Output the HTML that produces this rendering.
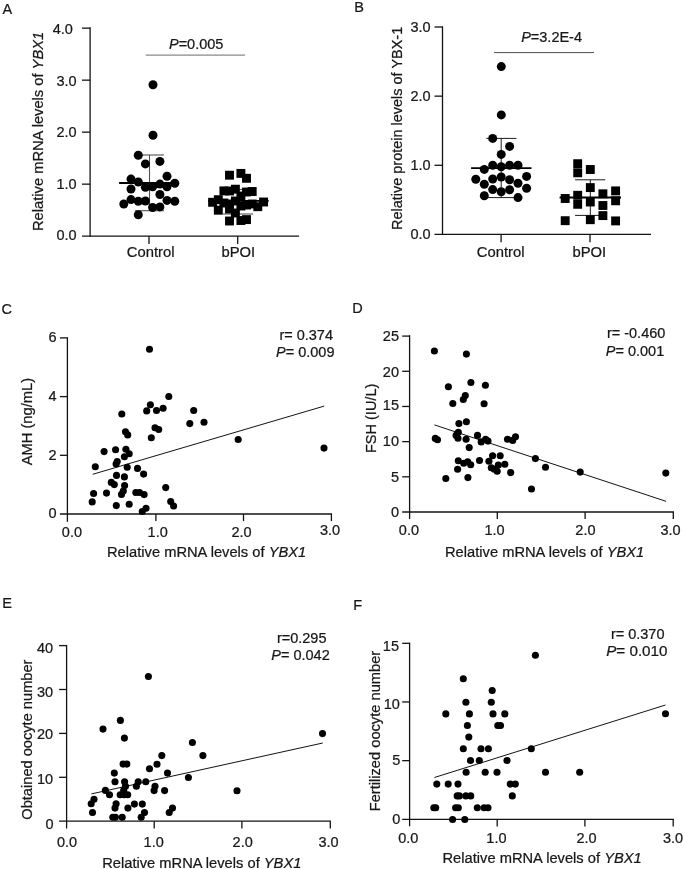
<!DOCTYPE html>
<html lang="en">
<head>
<meta charset="utf-8">
<title>Figure: YBX1 expression and correlations</title>
<style>
html,body{margin:0;padding:0;background:#fff;}
body{width:685px;height:869px;overflow:hidden;}
svg{display:block;}
svg text{font-family:"Liberation Sans",Arial,Helvetica,sans-serif;fill:#1a1718;stroke:#1a1718;stroke-width:0.24px;stroke-linejoin:round;}
</style>
</head>
<body>
<svg width="685" height="869" viewBox="0 0 685 869">
<rect x="0" y="0" width="685" height="869" fill="#ffffff"/>
<text x="2.6" y="14" text-anchor="start" font-size="14.5" >A</text>
<line x1="90.1" y1="27.35" x2="90.1" y2="236.8" stroke="#141213" stroke-width="1.3" />
<line x1="82" y1="236.15" x2="299.1" y2="236.15" stroke="#141213" stroke-width="1.3" />
<text x="76.6" y="240.0" text-anchor="end" font-size="14.5" >0.0</text>
<line x1="82" y1="184.15" x2="90.1" y2="184.15" stroke="#141213" stroke-width="1.3" />
<text x="76.6" y="188.5" text-anchor="end" font-size="14.5" >1.0</text>
<line x1="82" y1="132.15" x2="90.1" y2="132.15" stroke="#141213" stroke-width="1.3" />
<text x="76.6" y="137.0" text-anchor="end" font-size="14.5" >2.0</text>
<line x1="82" y1="80.15" x2="90.1" y2="80.15" stroke="#141213" stroke-width="1.3" />
<text x="76.6" y="85.5" text-anchor="end" font-size="14.5" >3.0</text>
<line x1="82" y1="28.150000000000006" x2="90.1" y2="28.150000000000006" stroke="#141213" stroke-width="1.3" />
<text x="72.9" y="33.8" text-anchor="end" font-size="14.5" >4.0</text>
<line x1="149" y1="236.15" x2="149" y2="244" stroke="#141213" stroke-width="1.3" />
<line x1="237.7" y1="236.15" x2="237.7" y2="244" stroke="#141213" stroke-width="1.3" />
<text x="150.6" y="257.2" text-anchor="middle" font-size="14.8" >Control</text>
<text x="238.3" y="257.2" text-anchor="middle" font-size="14.8" >bPOI</text>
<text transform="translate(42.6,231) rotate(-90)" font-size="14.7">Relative mRNA levels of <tspan font-style="italic">YBX1</tspan></text>
<text x="196.2" y="48.9" text-anchor="middle" font-size="14.5" ><tspan font-style="italic">P</tspan>=0.005</text>
<line x1="145.8" y1="55.1" x2="245.1" y2="55.1" stroke="#5a5a5c" stroke-width="0.9" />
<line x1="149.5" y1="155" x2="149.5" y2="210.7" stroke="#505052" stroke-width="1.1" />
<line x1="135" y1="155" x2="164" y2="155" stroke="#505052" stroke-width="1.1" />
<line x1="135" y1="210.7" x2="164" y2="210.7" stroke="#505052" stroke-width="1.1" />
<line x1="119.1" y1="183" x2="178.9" y2="183" stroke="#000" stroke-width="1.8" />
<g fill="#000">
<circle cx="153" cy="84.8" r="4.5"/>
<circle cx="153" cy="135.2" r="4.5"/>
<circle cx="138.3" cy="155.2" r="4.5"/>
<circle cx="145.4" cy="163.9" r="4.5"/>
<circle cx="159.9" cy="161.4" r="4.5"/>
<circle cx="167.0" cy="176.2" r="4.5"/>
<circle cx="131.0" cy="179.1" r="4.5"/>
<circle cx="138.3" cy="182.0" r="4.5"/>
<circle cx="174.8" cy="183.2" r="4.5"/>
<circle cx="159.9" cy="184.1" r="4.5"/>
<circle cx="131.0" cy="189.0" r="4.5"/>
<circle cx="145.4" cy="187.3" r="4.5"/>
<circle cx="152.6" cy="186.7" r="4.5"/>
<circle cx="167.0" cy="186.7" r="4.5"/>
<circle cx="159.9" cy="194.5" r="4.5"/>
<circle cx="131.0" cy="199.6" r="4.5"/>
<circle cx="138.3" cy="201.3" r="4.5"/>
<circle cx="145.4" cy="201.0" r="4.5"/>
<circle cx="167.0" cy="200.4" r="4.5"/>
<circle cx="174.8" cy="201.3" r="4.5"/>
<circle cx="123.8" cy="204.0" r="4.5"/>
<circle cx="152.6" cy="207.5" r="4.5"/>
<circle cx="159.9" cy="206.9" r="4.5"/>
<circle cx="138.3" cy="214.7" r="4.5"/>
</g>
<line x1="238.3" y1="189.5" x2="238.3" y2="214" stroke="#505052" stroke-width="1.1" />
<line x1="223" y1="189.5" x2="253" y2="189.5" stroke="#505052" stroke-width="1.1" />
<line x1="223" y1="214" x2="253" y2="214" stroke="#505052" stroke-width="1.1" />
<line x1="208" y1="200.8" x2="268.7" y2="200.8" stroke="#000" stroke-width="1.8" />
<g fill="#000">
<rect x="208.15" y="197.85" width="8.9" height="8.9"/>
<rect x="213.85" y="195.25" width="8.9" height="8.9"/>
<rect x="213.85" y="205.75" width="8.9" height="8.9"/>
<rect x="219.45" y="186.45" width="8.9" height="8.9"/>
<rect x="219.45" y="198.55" width="8.9" height="8.9"/>
<rect x="225.05" y="170.75" width="8.9" height="8.9"/>
<rect x="225.05" y="186.55" width="8.9" height="8.9"/>
<rect x="225.05" y="199.55" width="8.9" height="8.9"/>
<rect x="225.05" y="204.55" width="8.9" height="8.9"/>
<rect x="225.05" y="216.55" width="8.9" height="8.9"/>
<rect x="230.95" y="184.75" width="8.9" height="8.9"/>
<rect x="230.95" y="196.55" width="8.9" height="8.9"/>
<rect x="230.95" y="208.55" width="8.9" height="8.9"/>
<rect x="236.45" y="168.95" width="8.9" height="8.9"/>
<rect x="236.45" y="191.55" width="8.9" height="8.9"/>
<rect x="236.45" y="201.55" width="8.9" height="8.9"/>
<rect x="236.45" y="216.05" width="8.9" height="8.9"/>
<rect x="242.05" y="173.85" width="8.9" height="8.9"/>
<rect x="242.05" y="187.55" width="8.9" height="8.9"/>
<rect x="242.05" y="200.55" width="8.9" height="8.9"/>
<rect x="242.05" y="215.15" width="8.9" height="8.9"/>
<rect x="247.75" y="187.05" width="8.9" height="8.9"/>
<rect x="247.75" y="199.55" width="8.9" height="8.9"/>
<rect x="253.35" y="202.25" width="8.9" height="8.9"/>
<rect x="259.15" y="197.55" width="8.9" height="8.9"/>
</g>
<text x="354.2" y="11.8" text-anchor="start" font-size="14.5" >B</text>
<line x1="442.5" y1="26.349999999999973" x2="442.5" y2="235.1" stroke="#141213" stroke-width="1.3" />
<line x1="434.5" y1="234.45" x2="651.0" y2="234.45" stroke="#141213" stroke-width="1.3" />
<text x="430.6" y="239.39999999999998" text-anchor="end" font-size="14.5" >0.0</text>
<line x1="434.5" y1="165.29999999999998" x2="442.5" y2="165.29999999999998" stroke="#141213" stroke-width="1.3" />
<text x="430.6" y="170.24999999999997" text-anchor="end" font-size="14.5" >1.0</text>
<line x1="434.5" y1="96.14999999999998" x2="442.5" y2="96.14999999999998" stroke="#141213" stroke-width="1.3" />
<text x="430.6" y="101.09999999999998" text-anchor="end" font-size="14.5" >2.0</text>
<line x1="434.5" y1="26.99999999999997" x2="442.5" y2="26.99999999999997" stroke="#141213" stroke-width="1.3" />
<text x="430.6" y="31.94999999999997" text-anchor="end" font-size="14.5" >3.0</text>
<line x1="501.1" y1="234.45" x2="501.1" y2="242.2" stroke="#141213" stroke-width="1.3" />
<line x1="590" y1="234.45" x2="590" y2="242.2" stroke="#141213" stroke-width="1.3" />
<text x="500.7" y="257.2" text-anchor="middle" font-size="14.8" >Control</text>
<text x="589.3" y="257.2" text-anchor="middle" font-size="14.8" >bPOI</text>
<text transform="translate(401.6,230.0) rotate(-90)" font-size="14.48">Relative protein levels of YBX-1</text>
<text x="551.6" y="41.6" text-anchor="middle" font-size="14.5" ><tspan font-style="italic">P</tspan>=3.2E-4</text>
<line x1="494.1" y1="52.6" x2="594" y2="52.6" stroke="#4d4d4f" stroke-width="1.0" />
<line x1="501.2" y1="138.4" x2="501.2" y2="197.6" stroke="#1c1a1b" stroke-width="1.0" />
<line x1="486.3" y1="138.4" x2="516.4" y2="138.4" stroke="#1c1a1b" stroke-width="1.0" />
<line x1="486.3" y1="197.6" x2="516.4" y2="197.6" stroke="#1c1a1b" stroke-width="1.0" />
<line x1="471.1" y1="168.2" x2="531.5" y2="168.2" stroke="#000" stroke-width="1.8" />
<g fill="#000">
<circle cx="501.3" cy="66.6" r="4.5"/>
<circle cx="501.3" cy="114.9" r="4.5"/>
<circle cx="492.7" cy="138.4" r="4.5"/>
<circle cx="509.6" cy="146.4" r="4.5"/>
<circle cx="501.2" cy="154.4" r="4.5"/>
<circle cx="492.7" cy="165.3" r="4.5"/>
<circle cx="501.2" cy="166.8" r="4.5"/>
<circle cx="509.6" cy="165.3" r="4.5"/>
<circle cx="518.0" cy="165.3" r="4.5"/>
<circle cx="484.3" cy="169.4" r="4.5"/>
<circle cx="526.6" cy="176.4" r="4.5"/>
<circle cx="501.2" cy="177.0" r="4.5"/>
<circle cx="475.8" cy="179.3" r="4.5"/>
<circle cx="492.7" cy="179.0" r="4.5"/>
<circle cx="509.6" cy="179.7" r="4.5"/>
<circle cx="518.0" cy="183.2" r="4.5"/>
<circle cx="484.3" cy="184.3" r="4.5"/>
<circle cx="526.6" cy="188.3" r="4.5"/>
<circle cx="492.7" cy="189.6" r="4.5"/>
<circle cx="509.6" cy="189.8" r="4.5"/>
<circle cx="501.2" cy="191.8" r="4.5"/>
<circle cx="484.3" cy="195.7" r="4.5"/>
<circle cx="518.0" cy="197.6" r="4.5"/>
</g>
<line x1="590.3" y1="179.8" x2="590.3" y2="215.4" stroke="#1c1a1b" stroke-width="1.0" />
<line x1="575.1" y1="179.8" x2="605.2" y2="179.8" stroke="#1c1a1b" stroke-width="1.0" />
<line x1="575.1" y1="215.4" x2="605.2" y2="215.4" stroke="#1c1a1b" stroke-width="1.0" />
<line x1="559.6" y1="197.5" x2="621" y2="197.5" stroke="#000" stroke-width="1.8" />
<g fill="#000">
<rect x="573.25" y="159.25" width="8.9" height="8.9"/>
<rect x="573.25" y="168.35" width="8.9" height="8.9"/>
<rect x="585.85" y="165.05" width="8.9" height="8.9"/>
<rect x="585.85" y="183.15" width="8.9" height="8.9"/>
<rect x="611.15" y="186.45" width="8.9" height="8.9"/>
<rect x="598.45" y="189.35" width="8.9" height="8.9"/>
<rect x="573.25" y="190.85" width="8.9" height="8.9"/>
<rect x="560.75" y="194.05" width="8.9" height="8.9"/>
<rect x="611.15" y="196.35" width="8.9" height="8.9"/>
<rect x="585.85" y="197.55" width="8.9" height="8.9"/>
<rect x="573.25" y="199.85" width="8.9" height="8.9"/>
<rect x="598.45" y="201.05" width="8.9" height="8.9"/>
<rect x="598.45" y="211.15" width="8.9" height="8.9"/>
<rect x="585.85" y="215.25" width="8.9" height="8.9"/>
<rect x="560.75" y="216.25" width="8.9" height="8.9"/>
<rect x="611.15" y="216.45" width="8.9" height="8.9"/>
</g>
<text x="1.4" y="313.6" text-anchor="start" font-size="14.5" >C</text>
<line x1="67.4" y1="337.25" x2="67.4" y2="521.8" stroke="#141213" stroke-width="1.3" />
<line x1="59.9" y1="514.0" x2="332.04999999999995" y2="514.0" stroke="#141213" stroke-width="1.3" />
<text x="56.6" y="518.2" text-anchor="end" font-size="14.5" >0</text>
<line x1="59.9" y1="455.3" x2="67.4" y2="455.3" stroke="#141213" stroke-width="1.3" />
<text x="56.6" y="460.1" text-anchor="end" font-size="14.5" >2</text>
<line x1="59.9" y1="396.6" x2="67.4" y2="396.6" stroke="#141213" stroke-width="1.3" />
<text x="56.6" y="400.8" text-anchor="end" font-size="14.5" >4</text>
<line x1="59.9" y1="337.9" x2="67.4" y2="337.9" stroke="#141213" stroke-width="1.3" />
<text x="56.6" y="342.0" text-anchor="end" font-size="14.5" >6</text>
<line x1="155.9" y1="514.0" x2="155.9" y2="521.1" stroke="#141213" stroke-width="1.3" />
<line x1="243.5" y1="514.0" x2="243.5" y2="521.1" stroke="#141213" stroke-width="1.3" />
<line x1="331.4" y1="514.0" x2="331.4" y2="521.1" stroke="#141213" stroke-width="1.3" />
<text x="71.9" y="537.3" text-anchor="middle" font-size="14.5" >0.0</text>
<text x="157.7" y="537.3" text-anchor="middle" font-size="14.5" >1.0</text>
<text x="241.6" y="537.3" text-anchor="middle" font-size="14.5" >2.0</text>
<text x="330.1" y="534.8" text-anchor="middle" font-size="14.5" >3.0</text>
<text x="107" y="557.1" text-anchor="start" font-size="14.7" >Relative mRNA levels of <tspan font-style="italic">YBX1</tspan></text>
<text transform="translate(31.5,465.3) rotate(-90)" font-size="14.7">AMH (ng/mL)</text>
<text x="279.4" y="339.8" text-anchor="start" font-size="14.5" >r= 0.374</text>
<text x="276.0" y="356.6" text-anchor="start" font-size="14.5" ><tspan font-style="italic">P</tspan>= 0.009</text>
<line x1="92.7" y1="474.3" x2="324.2" y2="406.1" stroke="#141213" stroke-width="1.0" />
<g fill="#000">
<circle cx="149.5" cy="349.2" r="3.55"/>
<circle cx="168.8" cy="396.5" r="3.55"/>
<circle cx="150.4" cy="404.8" r="3.55"/>
<circle cx="163.1" cy="408.3" r="3.55"/>
<circle cx="146.7" cy="410.9" r="3.55"/>
<circle cx="156.5" cy="410.5" r="3.55"/>
<circle cx="193.7" cy="410.5" r="3.55"/>
<circle cx="121.8" cy="414.0" r="3.55"/>
<circle cx="204.0" cy="422.3" r="3.55"/>
<circle cx="189.8" cy="423.6" r="3.55"/>
<circle cx="155.0" cy="427.7" r="3.55"/>
<circle cx="158.7" cy="429.5" r="3.55"/>
<circle cx="125.5" cy="431.7" r="3.55"/>
<circle cx="127.7" cy="434.9" r="3.55"/>
<circle cx="151.3" cy="437.8" r="3.55"/>
<circle cx="125.9" cy="449.2" r="3.55"/>
<circle cx="115.6" cy="449.8" r="3.55"/>
<circle cx="104.1" cy="451.6" r="3.55"/>
<circle cx="129.2" cy="453.8" r="3.55"/>
<circle cx="124.4" cy="456.8" r="3.55"/>
<circle cx="117.2" cy="461.6" r="3.55"/>
<circle cx="116.1" cy="464.0" r="3.55"/>
<circle cx="95.3" cy="466.7" r="3.55"/>
<circle cx="127.2" cy="467.3" r="3.55"/>
<circle cx="137.5" cy="468.4" r="3.55"/>
<circle cx="143.6" cy="474.1" r="3.55"/>
<circle cx="116.5" cy="475.4" r="3.55"/>
<circle cx="124.4" cy="476.9" r="3.55"/>
<circle cx="111.3" cy="482.4" r="3.55"/>
<circle cx="114.3" cy="484.6" r="3.55"/>
<circle cx="124.6" cy="485.5" r="3.55"/>
<circle cx="165.7" cy="487.6" r="3.55"/>
<circle cx="123.3" cy="491.1" r="3.55"/>
<circle cx="135.8" cy="492.5" r="3.55"/>
<circle cx="139.5" cy="492.5" r="3.55"/>
<circle cx="144.1" cy="494.6" r="3.55"/>
<circle cx="93.6" cy="493.5" r="3.55"/>
<circle cx="106.5" cy="493.1" r="3.55"/>
<circle cx="121.5" cy="494.4" r="3.55"/>
<circle cx="92.2" cy="501.9" r="3.55"/>
<circle cx="170.7" cy="501.6" r="3.55"/>
<circle cx="173.6" cy="506.0" r="3.55"/>
<circle cx="116.3" cy="505.6" r="3.55"/>
<circle cx="129.2" cy="504.3" r="3.55"/>
<circle cx="146.0" cy="508.2" r="3.55"/>
<circle cx="142.3" cy="511.5" r="3.55"/>
<circle cx="238.2" cy="439.5" r="3.55"/>
<circle cx="324" cy="448.1" r="3.55"/>
</g>
<text x="352.2" y="313.2" text-anchor="start" font-size="14.5" >D</text>
<line x1="409.6" y1="335.15000000000003" x2="409.6" y2="519" stroke="#141213" stroke-width="1.3" />
<line x1="402.2" y1="512.0" x2="673.9499999999999" y2="512.0" stroke="#141213" stroke-width="1.3" />
<text x="399.0" y="517.1" text-anchor="end" font-size="14.5" >0</text>
<line x1="402.2" y1="476.82" x2="409.6" y2="476.82" stroke="#141213" stroke-width="1.3" />
<text x="399.0" y="482.2" text-anchor="end" font-size="14.5" >5</text>
<line x1="402.2" y1="441.64" x2="409.6" y2="441.64" stroke="#141213" stroke-width="1.3" />
<text x="399.0" y="446.4" text-anchor="end" font-size="14.5" >10</text>
<line x1="402.2" y1="406.46000000000004" x2="409.6" y2="406.46000000000004" stroke="#141213" stroke-width="1.3" />
<text x="399.0" y="409.6" text-anchor="end" font-size="14.5" >15</text>
<line x1="402.2" y1="371.28" x2="409.6" y2="371.28" stroke="#141213" stroke-width="1.3" />
<text x="399.0" y="376.5" text-anchor="end" font-size="14.5" >20</text>
<line x1="402.2" y1="336.1" x2="409.6" y2="336.1" stroke="#141213" stroke-width="1.3" />
<text x="399.0" y="341.4" text-anchor="end" font-size="14.5" >25</text>
<line x1="497.3" y1="512.0" x2="497.3" y2="519" stroke="#141213" stroke-width="1.3" />
<line x1="585.1" y1="512.0" x2="585.1" y2="519" stroke="#141213" stroke-width="1.3" />
<line x1="673.3" y1="512.0" x2="673.3" y2="519" stroke="#141213" stroke-width="1.3" />
<text x="408.9" y="535" text-anchor="middle" font-size="14.5" >0.0</text>
<text x="494.6" y="535" text-anchor="middle" font-size="14.5" >1.0</text>
<text x="585.4" y="535" text-anchor="middle" font-size="14.5" >2.0</text>
<text x="670.6" y="535" text-anchor="middle" font-size="14.5" >3.0</text>
<text x="445.0" y="556.9" text-anchor="start" font-size="14.7" >Relative mRNA levels of <tspan font-style="italic">YBX1</tspan></text>
<text transform="translate(376.3,453) rotate(-90)" font-size="14.5">FSH (IU/L)</text>
<text x="606.9" y="338.4" text-anchor="start" font-size="14.5" >r= -0.460</text>
<text x="605.8" y="355.5" text-anchor="start" font-size="14.5" ><tspan font-style="italic">P</tspan>= 0.001</text>
<line x1="434.4" y1="424.9" x2="666" y2="501.3" stroke="#141213" stroke-width="1.0" />
<g fill="#000">
<circle cx="434.4" cy="351.0" r="3.55"/>
<circle cx="466.4" cy="354.1" r="3.55"/>
<circle cx="470.9" cy="382.5" r="3.55"/>
<circle cx="485.4" cy="385.3" r="3.55"/>
<circle cx="448.4" cy="386.8" r="3.55"/>
<circle cx="465.3" cy="395.6" r="3.55"/>
<circle cx="463.3" cy="399.5" r="3.55"/>
<circle cx="452.8" cy="403.5" r="3.55"/>
<circle cx="484.1" cy="403.7" r="3.55"/>
<circle cx="466.4" cy="421.8" r="3.55"/>
<circle cx="458.9" cy="423.6" r="3.55"/>
<circle cx="458.3" cy="432.3" r="3.55"/>
<circle cx="456.1" cy="435.4" r="3.55"/>
<circle cx="477.5" cy="435.4" r="3.55"/>
<circle cx="515.5" cy="436.7" r="3.55"/>
<circle cx="435.3" cy="438.4" r="3.55"/>
<circle cx="437.5" cy="439.8" r="3.55"/>
<circle cx="458.0" cy="438.2" r="3.55"/>
<circle cx="466.1" cy="439.3" r="3.55"/>
<circle cx="485.6" cy="439.3" r="3.55"/>
<circle cx="507.5" cy="439.3" r="3.55"/>
<circle cx="512.7" cy="440.4" r="3.55"/>
<circle cx="481.2" cy="441.9" r="3.55"/>
<circle cx="488.0" cy="441.1" r="3.55"/>
<circle cx="469.2" cy="447.6" r="3.55"/>
<circle cx="492.6" cy="455.7" r="3.55"/>
<circle cx="500.2" cy="455.7" r="3.55"/>
<circle cx="535.4" cy="458.6" r="3.55"/>
<circle cx="458.3" cy="460.7" r="3.55"/>
<circle cx="479.5" cy="460.5" r="3.55"/>
<circle cx="488.9" cy="461.2" r="3.55"/>
<circle cx="463.7" cy="463.2" r="3.55"/>
<circle cx="467.7" cy="461.8" r="3.55"/>
<circle cx="470.7" cy="464.7" r="3.55"/>
<circle cx="504.8" cy="464.2" r="3.55"/>
<circle cx="498.3" cy="465.1" r="3.55"/>
<circle cx="491.3" cy="467.7" r="3.55"/>
<circle cx="545.5" cy="467.3" r="3.55"/>
<circle cx="457.6" cy="469.3" r="3.55"/>
<circle cx="494.3" cy="469.3" r="3.55"/>
<circle cx="497.2" cy="471.2" r="3.55"/>
<circle cx="510.7" cy="472.6" r="3.55"/>
<circle cx="445.8" cy="478.5" r="3.55"/>
<circle cx="467.9" cy="477.6" r="3.55"/>
<circle cx="531.5" cy="489.0" r="3.55"/>
<circle cx="580.2" cy="472.1" r="3.55"/>
<circle cx="665.8" cy="473.1" r="3.55"/>
</g>
<text x="2.2" y="607.8" text-anchor="start" font-size="14.5" >E</text>
<line x1="66.6" y1="644.95" x2="66.6" y2="828.5" stroke="#141213" stroke-width="1.3" />
<line x1="59.1" y1="821.2" x2="330.95" y2="821.2" stroke="#141213" stroke-width="1.3" />
<line x1="59.1" y1="777.3000000000001" x2="66.6" y2="777.3000000000001" stroke="#141213" stroke-width="1.3" />
<line x1="59.1" y1="733.4000000000001" x2="66.6" y2="733.4000000000001" stroke="#141213" stroke-width="1.3" />
<line x1="59.1" y1="689.5" x2="66.6" y2="689.5" stroke="#141213" stroke-width="1.3" />
<line x1="59.1" y1="645.6" x2="66.6" y2="645.6" stroke="#141213" stroke-width="1.3" />
<text x="53.2" y="652.8" text-anchor="end" font-size="14.5" >40</text>
<text x="53.2" y="696.5" text-anchor="end" font-size="14.5" >30</text>
<text x="53.2" y="738.9" text-anchor="end" font-size="14.5" >20</text>
<text x="53.2" y="783.5" text-anchor="end" font-size="14.5" >10</text>
<text x="53.6" y="829.1" text-anchor="end" font-size="14.5" >0</text>
<line x1="154.2" y1="821.2" x2="154.2" y2="828.4" stroke="#141213" stroke-width="1.3" />
<line x1="241.9" y1="821.2" x2="241.9" y2="828.4" stroke="#141213" stroke-width="1.3" />
<line x1="330.3" y1="821.2" x2="330.3" y2="828.4" stroke="#141213" stroke-width="1.3" />
<text x="67.1" y="846.7" text-anchor="middle" font-size="14.5" >0.0</text>
<text x="153.7" y="846.7" text-anchor="middle" font-size="14.5" >1.0</text>
<text x="242.7" y="846.7" text-anchor="middle" font-size="14.5" >2.0</text>
<text x="328.6" y="846.7" text-anchor="middle" font-size="14.5" >3.0</text>
<text x="102.2" y="868.3" text-anchor="start" font-size="14.7" >Relative mRNA levels of <tspan font-style="italic">YBX1</tspan></text>
<text transform="translate(32,819.7) rotate(-90)" font-size="14.64">Obtained oocyte number</text>
<text x="276.9" y="643" text-anchor="start" font-size="14.5" >r=0.295</text>
<text x="271.3" y="660.3" text-anchor="start" font-size="14.5" ><tspan font-style="italic">P</tspan>= 0.042</text>
<line x1="91.4" y1="793.9" x2="322.8" y2="743" stroke="#141213" stroke-width="1.0" />
<g fill="#000">
<circle cx="148.4" cy="676.5" r="3.55"/>
<circle cx="120.4" cy="720.4" r="3.55"/>
<circle cx="103.0" cy="729.1" r="3.55"/>
<circle cx="124.4" cy="738.1" r="3.55"/>
<circle cx="192.4" cy="742.5" r="3.55"/>
<circle cx="161.8" cy="755.6" r="3.55"/>
<circle cx="202.9" cy="755.6" r="3.55"/>
<circle cx="123.1" cy="764.1" r="3.55"/>
<circle cx="126.8" cy="764.1" r="3.55"/>
<circle cx="157.0" cy="764.3" r="3.55"/>
<circle cx="149.5" cy="768.7" r="3.55"/>
<circle cx="114.3" cy="773.1" r="3.55"/>
<circle cx="167.5" cy="773.1" r="3.55"/>
<circle cx="188.4" cy="777.5" r="3.55"/>
<circle cx="115.0" cy="781.8" r="3.55"/>
<circle cx="124.6" cy="781.8" r="3.55"/>
<circle cx="138.2" cy="781.8" r="3.55"/>
<circle cx="145.8" cy="781.8" r="3.55"/>
<circle cx="125.5" cy="786.2" r="3.55"/>
<circle cx="136.4" cy="786.2" r="3.55"/>
<circle cx="155.0" cy="786.2" r="3.55"/>
<circle cx="105.4" cy="790.4" r="3.55"/>
<circle cx="123.7" cy="790.4" r="3.55"/>
<circle cx="154.1" cy="790.6" r="3.55"/>
<circle cx="164.6" cy="790.6" r="3.55"/>
<circle cx="109.5" cy="794.7" r="3.55"/>
<circle cx="120.2" cy="794.7" r="3.55"/>
<circle cx="124.2" cy="794.7" r="3.55"/>
<circle cx="127.7" cy="794.7" r="3.55"/>
<circle cx="94.0" cy="799.3" r="3.55"/>
<circle cx="91.2" cy="803.7" r="3.55"/>
<circle cx="116.1" cy="803.7" r="3.55"/>
<circle cx="134.4" cy="804.1" r="3.55"/>
<circle cx="142.3" cy="804.1" r="3.55"/>
<circle cx="115.0" cy="808.1" r="3.55"/>
<circle cx="127.9" cy="808.1" r="3.55"/>
<circle cx="172.5" cy="808.1" r="3.55"/>
<circle cx="92.5" cy="812.5" r="3.55"/>
<circle cx="144.5" cy="812.5" r="3.55"/>
<circle cx="169.2" cy="812.5" r="3.55"/>
<circle cx="112.8" cy="817.3" r="3.55"/>
<circle cx="115.4" cy="817.3" r="3.55"/>
<circle cx="122.2" cy="817.3" r="3.55"/>
<circle cx="141.2" cy="817.3" r="3.55"/>
<circle cx="237" cy="790.8" r="3.55"/>
<circle cx="322.5" cy="733.6" r="3.55"/>
</g>
<text x="353.2" y="609.9" text-anchor="start" font-size="14.5" >F</text>
<line x1="409.6" y1="642.65" x2="409.6" y2="826.3" stroke="#141213" stroke-width="1.3" />
<line x1="402.2" y1="819.3" x2="673.85" y2="819.3" stroke="#141213" stroke-width="1.3" />
<text x="400.4" y="823.8" text-anchor="end" font-size="14.5" >0</text>
<line x1="402.2" y1="760.635" x2="409.6" y2="760.635" stroke="#141213" stroke-width="1.3" />
<text x="400.4" y="765.135" text-anchor="end" font-size="14.5" >5</text>
<line x1="402.2" y1="701.9699999999999" x2="409.6" y2="701.9699999999999" stroke="#141213" stroke-width="1.3" />
<text x="399.8" y="708.9699999999999" text-anchor="end" font-size="14.5" >10</text>
<line x1="402.2" y1="643.305" x2="409.6" y2="643.305" stroke="#141213" stroke-width="1.3" />
<text x="399.0" y="650.905" text-anchor="end" font-size="14.5" >15</text>
<line x1="497.2" y1="819.3" x2="497.2" y2="826.4" stroke="#141213" stroke-width="1.3" />
<line x1="584.9" y1="819.3" x2="584.9" y2="826.4" stroke="#141213" stroke-width="1.3" />
<line x1="673.2" y1="819.3" x2="673.2" y2="826.4" stroke="#141213" stroke-width="1.3" />
<text x="408.3" y="842.8" text-anchor="middle" font-size="14.5" >0.0</text>
<text x="496.4" y="842.8" text-anchor="middle" font-size="14.5" >1.0</text>
<text x="586.5" y="842.8" text-anchor="middle" font-size="14.5" >2.0</text>
<text x="673.1" y="842.8" text-anchor="middle" font-size="14.5" >3.0</text>
<text x="442.5" y="863.4" text-anchor="start" font-size="14.7" >Relative mRNA levels of <tspan font-style="italic">YBX1</tspan></text>
<text transform="translate(380.1,811.3) rotate(-90)" font-size="14.66">Fertilized oocyte number</text>
<text x="610.9" y="638.7" text-anchor="start" font-size="14.5" >r= 0.370</text>
<text x="606.2" y="656.1" text-anchor="start" font-size="14.5" textLength="61.3" lengthAdjust="spacingAndGlyphs"><tspan font-style="italic">P</tspan>= 0.010</text>
<line x1="434.4" y1="777.5" x2="665.5" y2="705" stroke="#141213" stroke-width="1.0" />
<g fill="#000">
<circle cx="535.4" cy="655.3" r="3.55"/>
<circle cx="463.3" cy="678.7" r="3.55"/>
<circle cx="492.2" cy="690.5" r="3.55"/>
<circle cx="465.9" cy="702.3" r="3.55"/>
<circle cx="491.3" cy="702.3" r="3.55"/>
<circle cx="445.8" cy="713.9" r="3.55"/>
<circle cx="469.4" cy="713.9" r="3.55"/>
<circle cx="493.0" cy="713.9" r="3.55"/>
<circle cx="504.8" cy="713.9" r="3.55"/>
<circle cx="467.4" cy="725.5" r="3.55"/>
<circle cx="497.8" cy="725.5" r="3.55"/>
<circle cx="500.5" cy="725.5" r="3.55"/>
<circle cx="468.8" cy="737.1" r="3.55"/>
<circle cx="463.3" cy="748.7" r="3.55"/>
<circle cx="481.0" cy="748.7" r="3.55"/>
<circle cx="488.4" cy="748.7" r="3.55"/>
<circle cx="531.3" cy="748.7" r="3.55"/>
<circle cx="470.5" cy="760.5" r="3.55"/>
<circle cx="479.3" cy="760.5" r="3.55"/>
<circle cx="507.0" cy="760.5" r="3.55"/>
<circle cx="466.1" cy="772.3" r="3.55"/>
<circle cx="485.2" cy="772.3" r="3.55"/>
<circle cx="497.0" cy="772.3" r="3.55"/>
<circle cx="545.5" cy="772.3" r="3.55"/>
<circle cx="436.8" cy="784.1" r="3.55"/>
<circle cx="448.2" cy="784.1" r="3.55"/>
<circle cx="458.0" cy="784.1" r="3.55"/>
<circle cx="510.3" cy="784.1" r="3.55"/>
<circle cx="515.3" cy="784.1" r="3.55"/>
<circle cx="457.2" cy="795.9" r="3.55"/>
<circle cx="459.4" cy="795.9" r="3.55"/>
<circle cx="465.9" cy="795.9" r="3.55"/>
<circle cx="470.7" cy="795.9" r="3.55"/>
<circle cx="512.3" cy="795.9" r="3.55"/>
<circle cx="433.8" cy="807.7" r="3.55"/>
<circle cx="435.7" cy="807.7" r="3.55"/>
<circle cx="455.6" cy="807.7" r="3.55"/>
<circle cx="458.3" cy="807.7" r="3.55"/>
<circle cx="477.3" cy="807.7" r="3.55"/>
<circle cx="484.1" cy="807.7" r="3.55"/>
<circle cx="488.0" cy="807.7" r="3.55"/>
<circle cx="452.6" cy="819.5" r="3.55"/>
<circle cx="464.8" cy="819.5" r="3.55"/>
<circle cx="579.7" cy="772.2" r="3.55"/>
<circle cx="665.5" cy="713.8" r="3.55"/>
</g>
</svg>
</body>
</html>
